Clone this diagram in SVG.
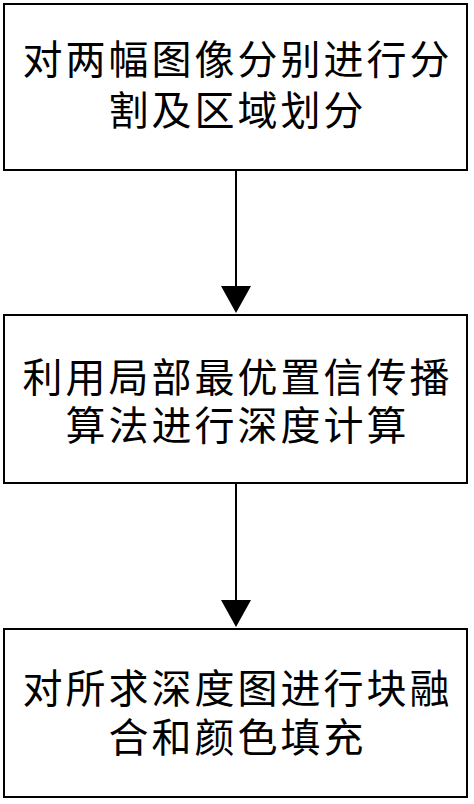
<svg xmlns="http://www.w3.org/2000/svg" width="474" height="804" viewBox="0 0 474 804">
<defs>
<style>
.box{fill:#fff;stroke:#000;stroke-width:2}
.t{font-family:"Noto Sans CJK SC","Noto Sans",sans-serif;font-size:40px;letter-spacing:3px;text-anchor:middle;fill:#000}
.ln{stroke:#000;stroke-width:2;fill:none}
</style>
<marker id="ah" viewBox="0 0 30 27" refX="15" refY="27" markerWidth="30" markerHeight="27" markerUnits="userSpaceOnUse" orient="auto-start-reverse">
<path d="M0,0 L30,0 L15,27 Z" fill="#000"/>
</marker>
</defs>
<rect width="474" height="804" fill="#fff"/>
<g id="connectors">
<path class="ln" d="M236,170 V290"/>
<path d="M221,286 L251,286 L236,313 Z" fill="#000"/>
<path class="ln" d="M236,483 V604"/>
<path d="M221,600 L251,600 L236,627 Z" fill="#000"/>
</g>
<g id="node1">
<rect class="box" x="4" y="4" width="463" height="166"/>
<text class="t" x="237.5" y="74">对两幅图像分别进行分</text>
<text class="t" x="237.5" y="125">割及区域划分</text>
</g>
<g id="node2">
<rect class="box" x="4" y="315" width="463" height="168"/>
<text class="t" x="237.5" y="392">利用局部最优置信传播</text>
<text class="t" x="237.5" y="440">算法进行深度计算</text>
</g>
<g id="node3">
<rect class="box" x="4" y="629" width="463" height="168"/>
<text class="t" x="237.5" y="703">对所求深度图进行块融</text>
<text class="t" x="237.5" y="752">合和颜色填充</text>
</g>
</svg>
